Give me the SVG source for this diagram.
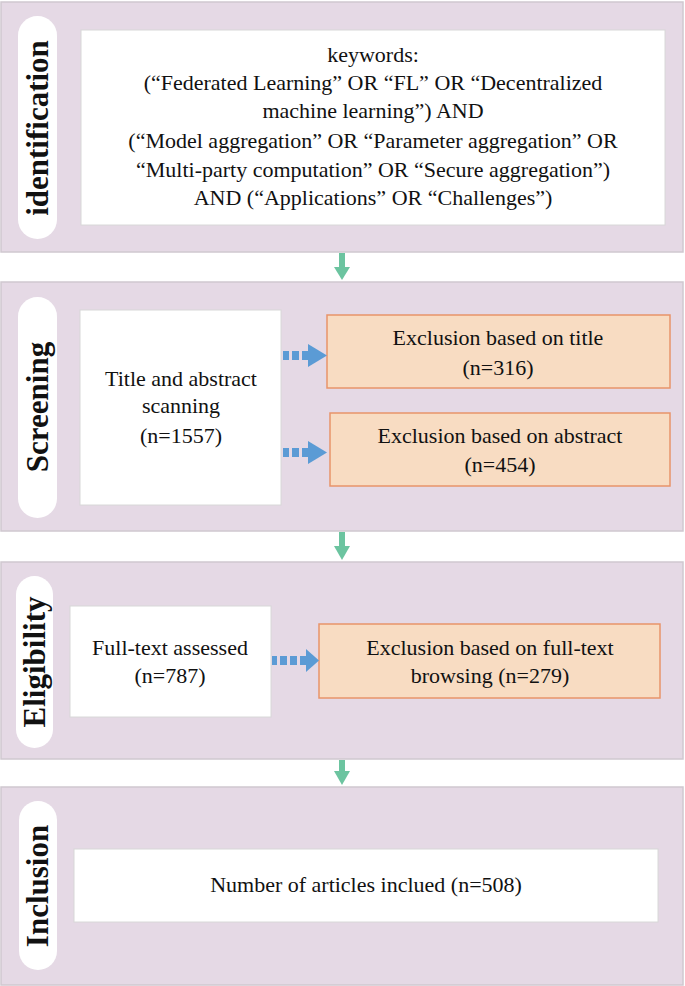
<svg xmlns="http://www.w3.org/2000/svg" width="685" height="986" viewBox="0 0 685 986">
<style>
.panel{fill:#e5d9e5;stroke:#cfc8cf;stroke-width:1.5}
.pill{fill:#fff}
.box{fill:#fff;stroke:#d8d8d8;stroke-width:1}
.ex{fill:#f8dcc2;stroke:#e8946a;stroke-width:1.5}
text{font-family:"Liberation Serif","Times New Roman",serif;font-size:22px;fill:#111;text-anchor:middle}
.lab{font-size:31px;font-weight:bold}
.g{fill:#6cc4a0}
.b{fill:#5b9bd5}
</style>
<rect width="685" height="986" fill="#fff"/>
<g font-family="Liberation Serif, serif">
<g id="identification">
<rect class="panel" x="1" y="2" width="682" height="250"/>
<rect class="pill" x="18" y="16" width="39" height="223" rx="19.5"/>
<text class="lab" transform="translate(48,128) rotate(-90)">identification</text>
<rect class="box" x="81" y="30" width="584" height="195"/>
<text x="373" y="62">keywords:</text>
<text x="373" y="90">(“Federated Learning” OR “FL” OR “Decentralized</text>
<text x="373" y="118">machine learning”) AND</text>
<text x="373" y="148">(“Model aggregation” OR “Parameter aggregation” OR</text>
<text x="373" y="177">“Multi-party computation” OR “Secure aggregation”)</text>
<text x="373" y="205">AND (“Applications” OR “Challenges”)</text>
</g>
<g id="screening">
<rect class="panel" x="1" y="282" width="682" height="249"/>
<rect class="pill" x="18" y="297" width="39" height="221" rx="19.5"/>
<text class="lab" transform="translate(48,407) rotate(-90)">Screening</text>
<rect class="box" x="80" y="310" width="201" height="195"/>
<text x="181" y="386">Title and abstract</text>
<text x="181" y="413">scanning</text>
<text x="181" y="443">(n=1557)</text>
<rect class="ex" x="327" y="315" width="343" height="73"/>
<text x="498" y="345">Exclusion based on title</text>
<text x="498" y="375">(n=316)</text>
<rect class="ex" x="330" y="413" width="340" height="73"/>
<text x="500" y="443">Exclusion based on abstract</text>
<text x="500" y="472">(n=454)</text>
</g>
<g id="eligibility">
<rect class="panel" x="1" y="562" width="682" height="197"/>
<rect class="pill" x="16" y="576" width="37" height="172" rx="18.5"/>
<text class="lab" transform="translate(45,662) rotate(-90)">Eligibility</text>
<rect class="box" x="70" y="606" width="201" height="111"/>
<text x="170" y="655">Full-text assessed</text>
<text x="170" y="683">(n=787)</text>
<rect class="ex" x="319" y="624" width="341" height="74"/>
<text x="490" y="655">Exclusion based on full-text</text>
<text x="490" y="683">browsing (n=279)</text>
</g>
<g id="inclusion">
<rect class="panel" x="1" y="787" width="682" height="198"/>
<rect class="pill" x="19" y="801" width="38" height="169" rx="19"/>
<text class="lab" transform="translate(48,886) rotate(-90)">Inclusion</text>
<rect class="box" x="74" y="849" width="584" height="73"/>
<text x="366" y="892">Number of articles inclued (n=508)</text>
</g>
</g>
<g id="connectors">
<rect class="g" x="339" y="253" width="6" height="16"/><polygon class="g" points="334,267 350,267 342,280"/>
<rect class="g" x="339" y="532" width="6" height="16"/><polygon class="g" points="334,546 350,546 342,560"/>
<rect class="g" x="339" y="760" width="6" height="13"/><polygon class="g" points="334,771 350,771 342,785"/>
<g class="b">
<rect x="283" y="351" width="6" height="9"/><rect x="292" y="351" width="7" height="9"/><rect x="302" y="351" width="6" height="9"/><polygon points="308,344 327,355.5 308,367"/>
<rect x="283" y="448" width="6" height="9"/><rect x="292" y="448" width="7" height="9"/><rect x="302" y="448" width="6" height="9"/><polygon points="308,441 327,452.5 308,464"/>
<rect x="272" y="656" width="5" height="9"/><rect x="280" y="656" width="7" height="9"/><rect x="290" y="656" width="7" height="9"/><rect x="300" y="656" width="6" height="9"/><polygon points="306,649 319,660.5 306,672"/>
</g>
</g>
</svg>
